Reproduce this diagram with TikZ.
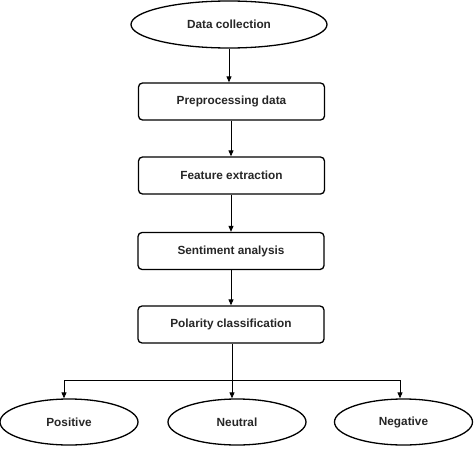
\documentclass[tikz,border=0pt]{standalone}
\usepackage{fontspec}
\setmainfont{Liberation Sans}
\usetikzlibrary{arrows.meta,shapes.geometric}
\begin{document}
\begin{tikzpicture}[x=1pt,y=-1pt,
  lbl/.style={font=\fontsize{11.8}{14}\selectfont\bfseries, text=black!85},
  box/.style={draw, lbl, line width=1.3pt, rounded corners=4pt, minimum width=186pt, minimum height=37pt, inner sep=0pt},
  oval/.style={draw, lbl, ellipse, line width=1.3pt, minimum width=138pt, minimum height=46pt, inner sep=0pt},
  arr/.style={draw, line width=0.9pt, -{Triangle[length=6pt,width=5pt]}}]
\useasboundingbox (0,0) rectangle (474,471);
\node[oval, minimum width=196pt, minimum height=47pt] (dc) at (229,24.5) {Data collection};
\node[box] (pp) at (231.5,101.5) {Preprocessing data};
\node[box] (fe) at (231.5,175.5) {Feature extraction};
\node[box] (sa) at (231,251) {Sentiment analysis};
\node[box] (pc) at (231,324.5) {Polarity classification};
\node[oval] (pos) at (69,422) {Positive};
\node[oval] (neu) at (237,422) {Neutral};
\node[oval] (neg) at (403.5,422) {Negative};
\coordinate (j) at (232,380);
\draw[arr] (dc.south) -- (dc.south |- pp.north);
\draw[arr] (pp.south -| 231,0) -- (fe.north -| 231,0);
\draw[arr] (fe.south -| 231,0) -- (sa.north -| 231,0);
\draw[arr] (sa.south -| 231,0) -- (pc.north -| 231,0);
\draw[line width=0.9pt] (pc.south -| j) -- (j);
\draw[arr] (j) -- (j |- neu.north);
\draw[arr] (j) -| (64,0 |- pos.north);
\draw[arr] (j) -| (400,0 |- neg.north);
\end{tikzpicture}
\end{document}
